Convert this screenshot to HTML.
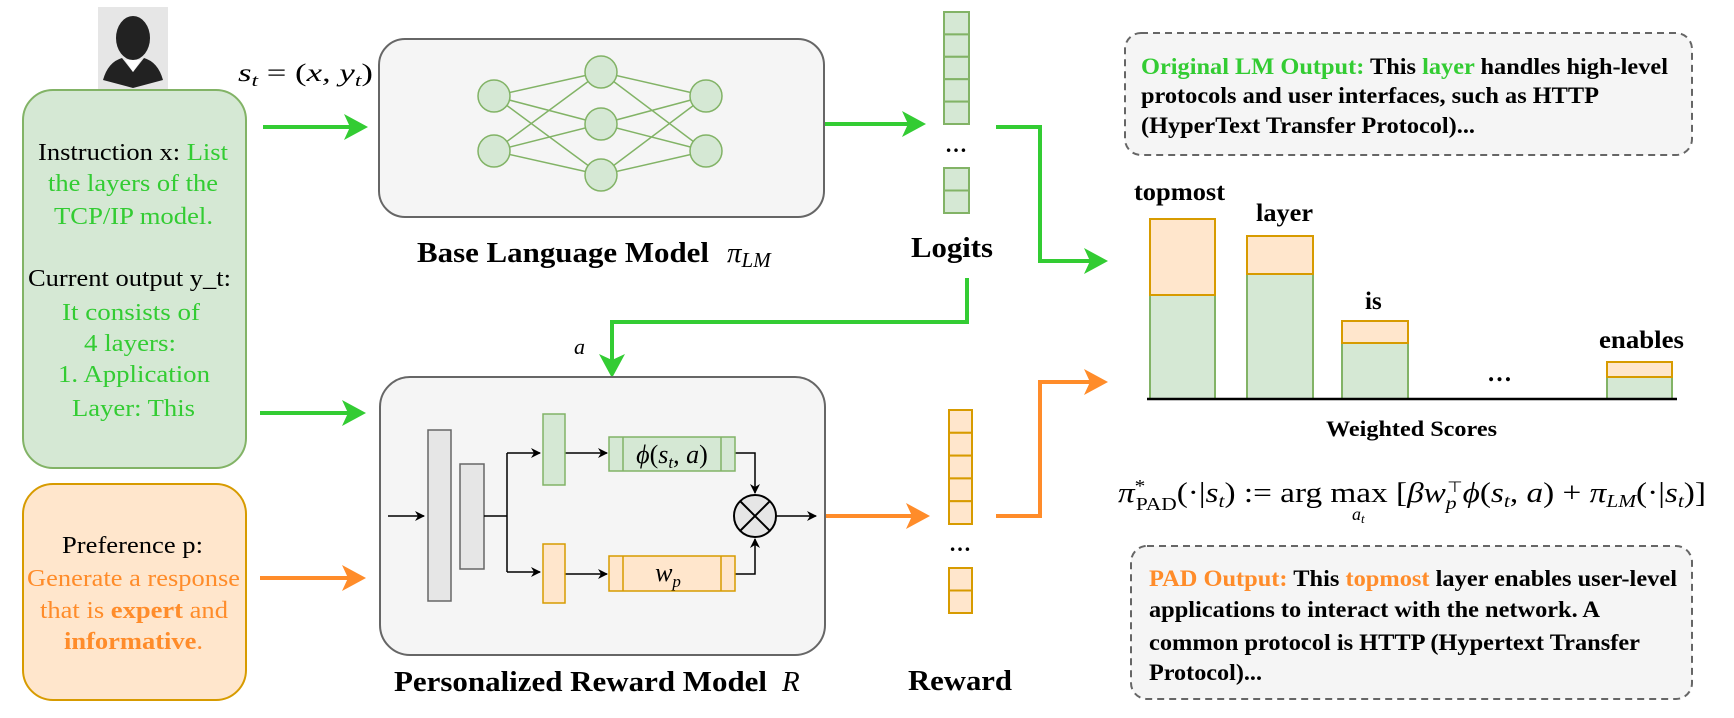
<!DOCTYPE html>
<html><head><meta charset="utf-8"><style>
body{margin:0;background:#fff}
svg{display:block}
text{font-family:"Liberation Serif",serif}
.b{font-weight:bold}
.g{fill:#33cc33}
.o{fill:#ff8c2a}
.i{font-style:italic}
</style></head><body>
<svg width="1734" height="718" viewBox="0 0 1734 718" xmlns="http://www.w3.org/2000/svg">
<defs>
<marker id="ak" markerWidth="10" markerHeight="10" refX="9" refY="5" orient="auto" markerUnits="userSpaceOnUse"><path d="M0,0 L10,5 L0,10 L3,5z" fill="#000"/></marker>
</defs>
<g stroke-width="4" fill="none">
<path d="M263,127 H350" stroke="#33cc33"/><path d="M344,114 L368,127 L344,140 L350,127z" fill="#33cc33" stroke="none"/>
<path d="M260,413 H348" stroke="#33cc33"/><path d="M342,400 L366,413 L342,426 L348,413z" fill="#33cc33" stroke="none"/>
<path d="M260,578 H348" stroke="#ff8c2a"/><path d="M342,565 L366,578 L342,591 L348,578z" fill="#ff8c2a" stroke="none"/>
<path d="M824,124 H908" stroke="#33cc33"/><path d="M902,111 L926,124 L902,137 L908,124z" fill="#33cc33" stroke="none"/>
<path d="M825,516 H912" stroke="#ff8c2a"/><path d="M906,503 L930,516 L906,529 L912,516z" fill="#ff8c2a" stroke="none"/>
<path d="M996,127 H1040 V261 H1090" stroke="#33cc33"/><path d="M1084,248 L1108,261 L1084,274 L1090,261z" fill="#33cc33" stroke="none"/>
<path d="M996,516 H1040 V382 H1090" stroke="#ff8c2a"/><path d="M1084,369 L1108,382 L1084,395 L1090,382z" fill="#ff8c2a" stroke="none"/>
<path d="M967,278 V322 H612 V360" stroke="#33cc33"/><path d="M599,354 L612,378 L625,354 L612,360z" fill="#33cc33" stroke="none"/>
</g>
<!-- person -->
<rect x="98" y="7" width="70" height="82" fill="#e6e6e6"/>
<ellipse cx="133" cy="38" rx="17" ry="22" fill="#222"/>
<path d="M103,80 Q108,62 122,58 L133,72 L144,58 Q158,62 163,80 L133,88z" fill="#222"/>
<path d="M125,60 L133,72 L141,60z" fill="#fff"/>
<!-- left boxes -->
<rect x="23" y="90" width="223" height="378" rx="30" fill="#d5e8d4" stroke="#82b366" stroke-width="2"/>
<g font-size="24" lengthAdjust="spacingAndGlyphs">
<text x="38" y="160" textLength="190" lengthAdjust="spacingAndGlyphs"><tspan>Instruction x: </tspan><tspan class="g">List</tspan></text>
<text x="48" y="191" textLength="170" lengthAdjust="spacingAndGlyphs" class="g">the layers of the</text>
<text x="54" y="224" textLength="159" lengthAdjust="spacingAndGlyphs" class="g">TCP/IP model.</text>
<text x="28" y="286" textLength="203" lengthAdjust="spacingAndGlyphs">Current output y_t:</text>
<text x="62" y="320" textLength="138" lengthAdjust="spacingAndGlyphs" class="g">It consists of</text>
<text x="84" y="351" textLength="92" lengthAdjust="spacingAndGlyphs" class="g">4 layers:</text>
<text x="58" y="382" textLength="152" lengthAdjust="spacingAndGlyphs" class="g">1. Application</text>
<text x="72" y="416" textLength="123" lengthAdjust="spacingAndGlyphs" class="g">Layer: This</text>
</g>
<rect x="23" y="484" width="223" height="216" rx="30" fill="#ffe6cc" stroke="#d79b00" stroke-width="2"/>
<g font-size="24">
<text x="62" y="553" textLength="141" lengthAdjust="spacingAndGlyphs">Preference p:</text>
<text x="27" y="586" textLength="213" lengthAdjust="spacingAndGlyphs" class="o">Generate a response</text>
<text x="40" y="618" textLength="188" lengthAdjust="spacingAndGlyphs" class="o">that is <tspan class="b">expert</tspan> and</text>
<text x="64" y="649" textLength="139" lengthAdjust="spacingAndGlyphs" class="o"><tspan class="b">informative</tspan>.</text>
</g>
<text x="238" y="81" font-size="25" class="i" textLength="135" lengthAdjust="spacingAndGlyphs">s<tspan font-size="17" dy="5">t</tspan><tspan dy="-5" font-style="normal"> = (</tspan>x, y<tspan font-size="17" dy="5">t</tspan><tspan dy="-5" font-style="normal">)</tspan></text>
<!-- base LM -->
<rect x="379" y="39" width="445" height="178" rx="26" fill="#f5f5f5" stroke="#666" stroke-width="2"/>
<g stroke="#82b366" stroke-width="1.5">
<path d="M494,96 L601,72 M494,96 L601,124 M494,96 L601,175 M494,151 L601,72 M494,151 L601,124 M494,151 L601,175 M706,96 L601,72 M706,96 L601,124 M706,96 L601,175 M706,151 L601,72 M706,151 L601,124 M706,151 L601,175"/>
<g fill="#d5e8d4"><circle cx="494" cy="96" r="16"/><circle cx="494" cy="151" r="16"/><circle cx="601" cy="72" r="16"/><circle cx="601" cy="124" r="16"/><circle cx="601" cy="175" r="16"/><circle cx="706" cy="96" r="16"/><circle cx="706" cy="151" r="16"/></g>
</g>
<text x="417" y="262" font-size="29" class="b" textLength="292" lengthAdjust="spacingAndGlyphs">Base Language Model</text>
<text x="727" y="262" font-size="29" class="i">π<tspan font-size="21" dy="5">LM</tspan></text>
<!-- reward model -->
<text x="574" y="354" font-size="22" class="i">a</text>
<rect x="380" y="377" width="445" height="278" rx="30" fill="#f5f5f5" stroke="#666" stroke-width="2"/>
<rect x="428" y="430" width="23" height="171" fill="#e6e6e6" stroke="#666" stroke-width="1.5"/>
<rect x="460" y="464" width="24" height="105" fill="#e6e6e6" stroke="#666" stroke-width="1.5"/>
<g stroke="#000" stroke-width="1.5" fill="none">
<path d="M388,516 H424" marker-end="url(#ak)"/>
<path d="M484,516 H507 M507,453 V572"/>
<path d="M507,453 H540" marker-end="url(#ak)"/>
<path d="M507,572 H540" marker-end="url(#ak)"/>
<path d="M565,453 H607" marker-end="url(#ak)"/>
<path d="M565,574 H607" marker-end="url(#ak)"/>
<path d="M735,453 H755 V493" marker-end="url(#ak)"/>
<path d="M735,574 H755 V539" marker-end="url(#ak)"/>
<path d="M776,516 H816" marker-end="url(#ak)"/>
</g>
<rect x="543" y="414" width="22" height="71" fill="#d5e8d4" stroke="#82b366" stroke-width="1.5"/>
<rect x="543" y="544" width="22" height="59" fill="#ffe6cc" stroke="#d79b00" stroke-width="1.5"/>
<rect x="609" y="437" width="126" height="34" fill="#d5e8d4" stroke="#82b366" stroke-width="1.5"/>
<path d="M623,437 V471 M721,437 V471" stroke="#82b366" stroke-width="1.5"/>
<rect x="609" y="556" width="126" height="35" fill="#ffe6cc" stroke="#d79b00" stroke-width="1.5"/>
<path d="M623,556 V591 M721,556 V591" stroke="#d79b00" stroke-width="1.5"/>
<text x="672" y="463" font-size="26" text-anchor="middle" class="i">ϕ<tspan font-style="normal">(</tspan>s<tspan font-size="17" dy="5">t</tspan><tspan dy="-5" font-style="normal">, </tspan>a<tspan font-style="normal">)</tspan></text>
<text x="668" y="581" font-size="26" text-anchor="middle" class="i">w<tspan font-size="17" dy="6">p</tspan></text>
<circle cx="755" cy="516" r="21" fill="#e6e6e6" stroke="#000" stroke-width="2"/>
<path d="M740,501 L770,531 M770,501 L740,531" stroke="#000" stroke-width="2"/>
<text x="394" y="691" font-size="29" class="b" textLength="373" lengthAdjust="spacingAndGlyphs">Personalized Reward Model</text>
<text x="782" y="691" font-size="29" class="i">R</text>
<!-- logits -->
<g fill="#d5e8d4" stroke="#82b366" stroke-width="2">
<rect x="944" y="12" width="25" height="22.4"/><rect x="944" y="34.4" width="25" height="22.4"/><rect x="944" y="56.8" width="25" height="22.4"/><rect x="944" y="79.2" width="25" height="22.4"/><rect x="944" y="101.6" width="25" height="22.4"/>
<rect x="944" y="168" width="25" height="22.5"/><rect x="944" y="190.5" width="25" height="22.5"/>
</g>
<text x="956" y="152" font-size="22" class="b" text-anchor="middle">…</text>
<text x="911" y="257" font-size="29" class="b" textLength="82" lengthAdjust="spacingAndGlyphs">Logits</text>
<g fill="#ffe6cc" stroke="#d79b00" stroke-width="2">
<rect x="949" y="410" width="23" height="22.8"/><rect x="949" y="432.8" width="23" height="22.8"/><rect x="949" y="455.6" width="23" height="22.8"/><rect x="949" y="478.4" width="23" height="22.8"/><rect x="949" y="501.2" width="23" height="22.8"/>
<rect x="949" y="568" width="23" height="22.5"/><rect x="949" y="590.5" width="23" height="22.5"/>
</g>
<text x="960" y="551" font-size="22" class="b" text-anchor="middle">…</text>
<text x="908" y="690" font-size="29" class="b" textLength="104" lengthAdjust="spacingAndGlyphs">Reward</text>
<!-- right -->
<rect x="1125" y="33" width="567" height="122" rx="16" fill="#f5f5f5" stroke="#666" stroke-width="2" stroke-dasharray="7,5"/>
<g font-size="23" class="b">
<text x="1141" y="74" textLength="527" lengthAdjust="spacingAndGlyphs"><tspan class="g">Original LM Output:</tspan> This <tspan class="g">layer</tspan> handles high-level</text>
<text x="1141" y="103" textLength="458" lengthAdjust="spacingAndGlyphs">protocols and user interfaces, such as HTTP</text>
<text x="1141" y="133" textLength="334" lengthAdjust="spacingAndGlyphs">(HyperText Transfer Protocol)...</text>
</g>
<g stroke-width="2">
<rect x="1150" y="295" width="65" height="104" fill="#d5e8d4" stroke="#82b366"/><rect x="1150" y="219" width="65" height="76" fill="#ffe6cc" stroke="#d79b00"/>
<rect x="1247" y="274" width="66" height="125" fill="#d5e8d4" stroke="#82b366"/><rect x="1247" y="236" width="66" height="38" fill="#ffe6cc" stroke="#d79b00"/>
<rect x="1342" y="343" width="66" height="56" fill="#d5e8d4" stroke="#82b366"/><rect x="1342" y="321" width="66" height="22" fill="#ffe6cc" stroke="#d79b00"/>
<rect x="1607" y="377" width="65" height="22" fill="#d5e8d4" stroke="#82b366"/><rect x="1607" y="362" width="65" height="15" fill="#ffe6cc" stroke="#d79b00"/>
<path d="M1147,399 H1677" stroke="#000" stroke-width="2.5"/>
</g>
<g font-size="25" class="b">
<text x="1134" y="200" textLength="91" lengthAdjust="spacingAndGlyphs">topmost</text>
<text x="1256" y="221" textLength="57" lengthAdjust="spacingAndGlyphs">layer</text>
<text x="1365" y="309">is</text>
<text x="1599" y="348" textLength="85" lengthAdjust="spacingAndGlyphs">enables</text>
<text x="1487" y="381">…</text>
</g>
<text x="1326" y="436" font-size="22" class="b" textLength="171" lengthAdjust="spacingAndGlyphs">Weighted Scores</text>
<text x="1118" y="502" font-size="28" textLength="588" lengthAdjust="spacingAndGlyphs"><tspan class="i">π</tspan><tspan font-size="18" dy="-10">*</tspan><tspan font-size="18" dx="-8" dy="18">PAD</tspan><tspan dy="-8">(·|</tspan><tspan class="i">s</tspan><tspan font-size="18" class="i" dy="5">t</tspan><tspan dy="-5">) := arg max [</tspan><tspan class="i">βw</tspan><tspan font-size="18" class="i" dy="7">p</tspan><tspan font-size="15" dx="-8" dy="-17">⊤</tspan><tspan class="i" dy="10">ϕ</tspan><tspan>(</tspan><tspan class="i">s</tspan><tspan font-size="18" class="i" dy="5">t</tspan><tspan dy="-5">, </tspan><tspan class="i">a</tspan><tspan>) + </tspan><tspan class="i">π</tspan><tspan font-size="18" class="i" dy="5">LM</tspan><tspan dy="-5">(·|</tspan><tspan class="i">s</tspan><tspan font-size="18" class="i" dy="5">t</tspan><tspan dy="-5">)]</tspan></text>
<text x="1352" y="520" font-size="18" class="i">a<tspan font-size="13" dy="3">t</tspan></text>
<rect x="1131" y="546" width="561" height="153" rx="16" fill="#f5f5f5" stroke="#666" stroke-width="2" stroke-dasharray="7,5"/>
<g font-size="23" class="b">
<text x="1149" y="586" textLength="528" lengthAdjust="spacingAndGlyphs"><tspan class="o">PAD Output:</tspan> This <tspan class="o">topmost</tspan> layer enables user-level</text>
<text x="1149" y="617" textLength="451" lengthAdjust="spacingAndGlyphs">applications to interact with the network. A</text>
<text x="1149" y="650" textLength="491" lengthAdjust="spacingAndGlyphs">common protocol is HTTP (Hypertext Transfer</text>
<text x="1149" y="680" textLength="113" lengthAdjust="spacingAndGlyphs">Protocol)...</text>
</g>
</svg>
</body></html>
